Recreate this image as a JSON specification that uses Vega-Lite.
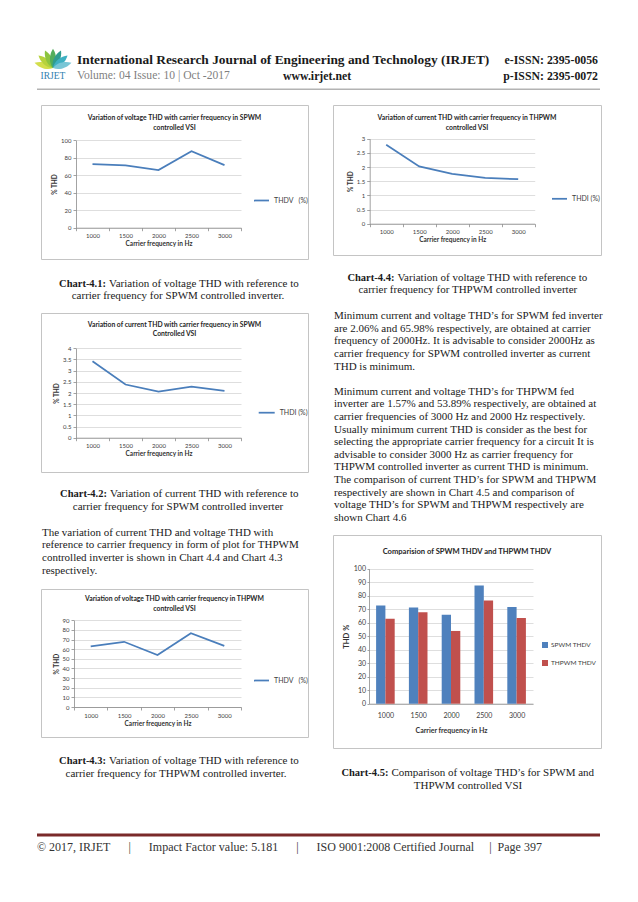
{
  "$schema": "https://vega.github.io/schema/vega-lite/v6.json",
  "padding": 0,
  "background": "white",
  "config": {
    "view": {"stroke": null},
    "font": "Lato",
    "title": {"font": "Lato", "fontSize": 6.8, "fontWeight": "bold", "color": "#262626", "anchor": "middle", "frame": "group"},
    "axis": {"labelFont": "Lato", "titleFont": "Lato", "labelFontSize": 6, "titleFontSize": 6.5, "titleFontWeight": "bold", "labelColor": "#404040", "titleColor": "#333333", "domainColor": "#8c8c8c", "tickColor": "#8c8c8c", "domainWidth": 0.8, "tickWidth": 0.8, "tickSize": 3, "labelPadding": 2, "gridColor": "#d6d6d6", "gridWidth": 0.8, "labelOverlap": false},
    "axisX": {"grid": false, "labelAngle": 0, "tickBand": "extent", "titlePadding": 2},
    "axisY": {"grid": true, "titlePadding": 3},
    "legend": {"labelFont": "Lato", "labelFontSize": 7, "labelColor": "#404040", "padding": 0, "symbolStrokeWidth": 1.75}
  },
  "datasets": {
    "thd": [
      {"freq": "1000", "series": "SPWM THDV", "scheme": "SPWM", "quantity": "THDV", "value": 72.7},
      {"freq": "1500", "series": "SPWM THDV", "scheme": "SPWM", "quantity": "THDV", "value": 71.2},
      {"freq": "2000", "series": "SPWM THDV", "scheme": "SPWM", "quantity": "THDV", "value": 65.98},
      {"freq": "2500", "series": "SPWM THDV", "scheme": "SPWM", "quantity": "THDV", "value": 87.6},
      {"freq": "3000", "series": "SPWM THDV", "scheme": "SPWM", "quantity": "THDV", "value": 71.6},
      {"freq": "1000", "series": "THPWM THDV", "scheme": "THPWM", "quantity": "THDV", "value": 63.0},
      {"freq": "1500", "series": "THPWM THDV", "scheme": "THPWM", "quantity": "THDV", "value": 67.7},
      {"freq": "2000", "series": "THPWM THDV", "scheme": "THPWM", "quantity": "THDV", "value": 53.89},
      {"freq": "2500", "series": "THPWM THDV", "scheme": "THPWM", "quantity": "THDV", "value": 76.5},
      {"freq": "3000", "series": "THPWM THDV", "scheme": "THPWM", "quantity": "THDV", "value": 63.5},
      {"freq": "1000", "series": "SPWM THDI", "scheme": "SPWM", "quantity": "THDI", "value": 3.42},
      {"freq": "1500", "series": "SPWM THDI", "scheme": "SPWM", "quantity": "THDI", "value": 2.38},
      {"freq": "2000", "series": "SPWM THDI", "scheme": "SPWM", "quantity": "THDI", "value": 2.06},
      {"freq": "2500", "series": "SPWM THDI", "scheme": "SPWM", "quantity": "THDI", "value": 2.28},
      {"freq": "3000", "series": "SPWM THDI", "scheme": "SPWM", "quantity": "THDI", "value": 2.1},
      {"freq": "1000", "series": "THPWM THDI", "scheme": "THPWM", "quantity": "THDI", "value": 2.79},
      {"freq": "1500", "series": "THPWM THDI", "scheme": "THPWM", "quantity": "THDI", "value": 2.02},
      {"freq": "2000", "series": "THPWM THDI", "scheme": "THPWM", "quantity": "THDI", "value": 1.76},
      {"freq": "2500", "series": "THPWM THDI", "scheme": "THPWM", "quantity": "THDI", "value": 1.62},
      {"freq": "3000", "series": "THPWM THDI", "scheme": "THPWM", "quantity": "THDI", "value": 1.57}
    ],
    "texts": [
      {"block": "cap41", "line": 1, "part": "bold", "text": "Chart-4.1:"},
      {"block": "cap41", "line": 1, "part": "rest", "text": "Variation of voltage THD with reference to"},
      {"block": "cap41", "line": 2, "part": "center", "text": "carrier frequency for SPWM controlled inverter."},
      {"block": "cap42", "line": 1, "part": "bold", "text": "Chart-4.2:"},
      {"block": "cap42", "line": 1, "part": "rest", "text": "Variation of current THD with reference to"},
      {"block": "cap42", "line": 2, "part": "center", "text": "carrier frequency for SPWM controlled inverter"},
      {"block": "cap43", "line": 1, "part": "bold", "text": "Chart-4.3:"},
      {"block": "cap43", "line": 1, "part": "rest", "text": "Variation of voltage THD with reference to"},
      {"block": "cap43", "line": 2, "part": "center", "text": "carrier frequency for THPWM controlled inverter."},
      {"block": "cap44", "line": 1, "part": "bold", "text": "Chart-4.4:"},
      {"block": "cap44", "line": 1, "part": "rest", "text": "Variation of voltage THD with reference to"},
      {"block": "cap44", "line": 2, "part": "center", "text": "carrier frequency for THPWM controlled inverter"},
      {"block": "cap45", "line": 1, "part": "bold", "text": "Chart-4.5:"},
      {"block": "cap45", "line": 1, "part": "rest", "text": "Comparison of voltage THD\u2019s for SPWM and"},
      {"block": "cap45", "line": 2, "part": "center", "text": "THPWM controlled VSI"},
      {"block": "paraL", "line": 1, "text": "The variation of current THD and voltage THD with"},
      {"block": "paraL", "line": 2, "text": "reference to carrier frequency in form of plot for THPWM"},
      {"block": "paraL", "line": 3, "text": "controlled inverter is shown in Chart 4.4 and Chart 4.3"},
      {"block": "paraL", "line": 4, "text": "respectively."},
      {"block": "paraR1", "line": 1, "text": "Minimum current and voltage THD\u2019s for SPWM fed inverter"},
      {"block": "paraR1", "line": 2, "text": "are 2.06% and 65.98% respectively, are obtained at carrier"},
      {"block": "paraR1", "line": 3, "text": "frequency of 2000Hz. It is advisable to consider 2000Hz as"},
      {"block": "paraR1", "line": 4, "text": "carrier frequency for SPWM controlled inverter as current"},
      {"block": "paraR1", "line": 5, "text": "THD is minimum."},
      {"block": "paraR2", "line": 1, "text": "Minimum current and voltage THD\u2019s for THPWM fed"},
      {"block": "paraR2", "line": 2, "text": "inverter are 1.57% and 53.89% respectively, are obtained at"},
      {"block": "paraR2", "line": 3, "text": "carrier frequencies of 3000 Hz and 2000 Hz respectively."},
      {"block": "paraR2", "line": 4, "text": "Usually minimum current THD is consider as the best for"},
      {"block": "paraR2", "line": 5, "text": "selecting the appropriate carrier frequency for a circuit It is"},
      {"block": "paraR2", "line": 6, "text": "advisable to consider 3000 Hz as carrier frequency for"},
      {"block": "paraR2", "line": 7, "text": "THPWM controlled inverter as current THD is minimum."},
      {"block": "paraR2", "line": 8, "text": "The comparison of current THD\u2019s for SPWM and THPWM"},
      {"block": "paraR2", "line": 9, "text": "respectively are shown in Chart 4.5 and comparison of"},
      {"block": "paraR2", "line": 10, "text": "voltage THD\u2019s for SPWM and THPWM respectively are"},
      {"block": "paraR2", "line": 11, "text": "shown Chart 4.6"}
    ],
    "header": [
      {"part": "leaf", "leaf": 1}, {"part": "leaf", "leaf": 2}, {"part": "leaf", "leaf": 3}, {"part": "leaf", "leaf": 4},
      {"part": "leaf", "leaf": 5}, {"part": "leaf", "leaf": 6}, {"part": "leaf", "leaf": 7},
      {"part": "logo", "text": "IRJET"},
      {"part": "title", "text": "International Research Journal of Engineering and Technology (IRJET)"},
      {"part": "volume", "text": "Volume: 04 Issue: 10 | Oct -2017"},
      {"part": "site", "text": "www.irjet.net"},
      {"part": "eissn", "text": "e-ISSN: 2395-0056"},
      {"part": "pissn", "text": "p-ISSN: 2395-0072"},
      {"part": "rule"}
    ],
    "footer": [
      {"part": "rule"},
      {"part": "text", "text": "\u00a9 2017, IRJET\u00a0\u00a0\u00a0\u00a0\u00a0\u00a0|\u00a0\u00a0\u00a0\u00a0\u00a0\u00a0Impact Factor value: 5.181\u00a0\u00a0\u00a0\u00a0\u00a0\u00a0|\u00a0\u00a0\u00a0\u00a0\u00a0\u00a0ISO 9001:2008 Certified Journal\u00a0\u00a0\u00a0\u00a0\u00a0|\u00a0\u00a0Page 397"}
    ]
  },
  "spacing": 0,
  "resolve": {"scale": {"color": "independent"}, "legend": {"color": "independent"}},
  "vconcat": [
    {
      "width": 638, "height": 104,
      "data": {"name": "header"},
      "layer": [
        {
          "transform": [{"filter": "datum.part === 'leaf'"}],
          "mark": {"type": "point", "filled": true, "opacity": 1, "size": 480, "shape": "M0,0C0.4,-0.45,0.34,-1.25,0,-1.75C-0.34,-1.25,-0.4,-0.45,0,0Z"},
          "encoding": {
            "x": {"datum": "a", "type": "nominal", "scale": {"type": "point", "padding": 0, "domain": ["a"], "range": [53, 53]}, "axis": null},
            "y": {"datum": "a", "type": "nominal", "scale": {"type": "point", "padding": 0, "domain": ["a"], "range": [68, 68]}, "axis": null},
            "angle": {"field": "leaf", "type": "quantitative", "scale": {"domain": [1, 7], "range": [-74, 74]}, "legend": null},
            "color": {"field": "leaf", "type": "ordinal", "scale": {"range": ["#d3de4c", "#b6d23d", "#8cc43f", "#52ad5c", "#2f9c8f", "#3eb0c2", "#79c6d6"]}, "legend": null}
          }
        },
        {
          "transform": [{"filter": "datum.part === 'logo'"}],
          "mark": {"type": "text", "align": "center", "baseline": "middle", "font": "Liberation Serif", "fontSize": 9.5, "color": "#2f7fb0"},
          "encoding": {
            "x": {"datum": "a", "type": "nominal", "scale": {"type": "point", "padding": 0, "domain": ["a"], "range": [53, 53]}, "axis": null},
            "y": {"datum": "a", "type": "nominal", "scale": {"type": "point", "padding": 0, "domain": ["a"], "range": [75.5, 75.5]}, "axis": null},
            "text": {"field": "text"}
          }
        },
        {
          "transform": [{"filter": "datum.part === 'title'"}],
          "mark": {"type": "text", "align": "left", "baseline": "middle", "font": "Liberation Serif", "fontSize": 13.4, "fontWeight": "bold", "color": "#1a1a1a"},
          "encoding": {
            "x": {"datum": "a", "type": "nominal", "scale": {"type": "point", "padding": 0, "domain": ["a"], "range": [77, 77]}, "axis": null},
            "y": {"datum": "a", "type": "nominal", "scale": {"type": "point", "padding": 0, "domain": ["a"], "range": [60, 60]}, "axis": null},
            "text": {"field": "text"}
          }
        },
        {
          "transform": [{"filter": "datum.part === 'volume'"}],
          "mark": {"type": "text", "align": "left", "baseline": "middle", "font": "Liberation Serif", "fontSize": 11.6, "color": "#7f7f7f"},
          "encoding": {
            "x": {"datum": "a", "type": "nominal", "scale": {"type": "point", "padding": 0, "domain": ["a"], "range": [77, 77]}, "axis": null},
            "y": {"datum": "a", "type": "nominal", "scale": {"type": "point", "padding": 0, "domain": ["a"], "range": [75.5, 75.5]}, "axis": null},
            "text": {"field": "text"}
          }
        },
        {
          "transform": [{"filter": "datum.part === 'site'"}],
          "mark": {"type": "text", "align": "left", "baseline": "middle", "font": "Liberation Serif", "fontSize": 11.8, "fontWeight": "bold", "color": "#1a1a1a"},
          "encoding": {
            "x": {"datum": "a", "type": "nominal", "scale": {"type": "point", "padding": 0, "domain": ["a"], "range": [283, 283]}, "axis": null},
            "y": {"datum": "a", "type": "nominal", "scale": {"type": "point", "padding": 0, "domain": ["a"], "range": [75.5, 75.5]}, "axis": null},
            "text": {"field": "text"}
          }
        },
        {
          "transform": [{"filter": "datum.part === 'eissn' || datum.part === 'pissn'"}],
          "mark": {"type": "text", "align": "right", "baseline": "middle", "font": "Liberation Serif", "fontSize": 11.8, "fontWeight": "bold", "color": "#1a1a1a"},
          "encoding": {
            "x": {"datum": "a", "type": "nominal", "scale": {"type": "point", "padding": 0, "domain": ["a"], "range": [598, 598]}, "axis": null},
            "y": {"field": "part", "type": "nominal", "scale": {"type": "point", "padding": 0, "domain": ["eissn", "pissn"], "range": [60, 75.5]}, "axis": null},
            "text": {"field": "text"}
          }
        },
        {
          "transform": [{"filter": "datum.part === 'rule'"}],
          "mark": {"type": "rule", "color": "#b3b3b3", "strokeWidth": 1.5},
          "encoding": {
            "x": {"datum": "start", "type": "nominal", "scale": {"type": "point", "padding": 0, "domain": ["start", "end"], "range": [37, 600]}, "axis": null},
            "x2": {"datum": "end"},
            "y": {"datum": "a", "type": "nominal", "scale": {"type": "point", "padding": 0, "domain": ["a"], "range": [89.3, 89.3]}, "axis": null}
          }
        }
      ],
      "resolve": {"scale": {"x": "independent", "y": "independent", "color": "independent", "angle": "independent"}}
    },
    {
      "spacing": 23,
      "resolve": {"scale": {"color": "independent"}, "legend": {"color": "independent"}},
      "hconcat": [
        {"width": 17, "height": 10, "data": {"values": [{"s": 0}]}, "mark": {"type": "point", "opacity": 0}},
        {
          "spacing": 0,
          "bounds": "flush",
          "resolve": {"scale": {"color": "independent"}, "legend": {"color": "independent"}},
          "vconcat": [
            {
              "width": 267, "height": 154,
              "view": {"stroke": "#c4c4c4"},
              "title": {"text": ["Variation of voltage THD with carrier frequency in SPWM", "controlled VSI"], "offset": -27, "lineHeight": 10},
              "data": {"name": "thd"},
              "transform": [{"filter": "datum.scheme === 'SPWM' && datum.quantity === 'THDV'"}],
              "mark": {"type": "line", "strokeWidth": 1.75},
              "encoding": {
                "x": {"field": "freq", "type": "ordinal", "scale": {"type": "band", "range": [35, 200], "paddingInner": 0, "paddingOuter": 0}, "axis": {"offset": -31.3, "title": "Carrier frequency in Hz"}},
                "y": {"field": "value", "type": "quantitative", "scale": {"domain": [0, 100], "range": [122.7, 35.3], "nice": false}, "axis": {"offset": -35, "values": [0, 20, 40, 60, 80, 100], "title": "% THD"}},
                "color": {"datum": "THDV\u00a0\u00a0\u00a0(%)", "type": "nominal", "scale": {"range": ["#4a7ebb"]}, "legend": {"title": null, "orient": "none", "legendX": 212, "legendY": 87, "symbolSize": 225}}
              }
            },
            {
              "width": 267, "height": 54,
              "data": {"name": "texts"},
              "transform": [{"filter": "datum.block === 'cap41'"}],
              "encoding": {"y": {"field": "line", "type": "ordinal", "scale": {"type": "point", "padding": 0, "domain": [1, 2], "range": [24.5, 37]}, "axis": null}},
              "layer": [
                {"transform": [{"filter": "datum.part === 'bold'"}], "mark": {"type": "text", "align": "right", "baseline": "middle", "font": "Liberation Serif", "fontSize": 10.5, "fontWeight": "bold", "color": "#1a1a1a"},
                 "encoding": {"x": {"datum": "split", "type": "nominal", "scale": {"type": "point", "padding": 0, "domain": ["split", "center"], "range": [65, 137]}, "axis": null}, "text": {"field": "text"}}},
                {"transform": [{"filter": "datum.part === 'rest'"}], "mark": {"type": "text", "align": "left", "baseline": "middle", "dx": 3, "font": "Liberation Serif", "fontSize": 11, "color": "#1a1a1a"},
                 "encoding": {"x": {"datum": "split", "type": "nominal", "axis": null}, "text": {"field": "text"}}},
                {"transform": [{"filter": "datum.part === 'center'"}], "mark": {"type": "text", "align": "center", "baseline": "middle", "font": "Liberation Serif", "fontSize": 11, "color": "#1a1a1a"},
                 "encoding": {"x": {"datum": "center", "type": "nominal", "axis": null}, "text": {"field": "text"}}}
              ]
            },
            {
              "width": 267, "height": 159,
              "view": {"stroke": "#c4c4c4"},
              "title": {"text": ["Variation of current THD with carrier frequency in SPWM", "Controlled VSI"], "offset": -25, "lineHeight": 9.5},
              "data": {"name": "thd"},
              "transform": [{"filter": "datum.scheme === 'SPWM' && datum.quantity === 'THDI'"}],
              "mark": {"type": "line", "strokeWidth": 1.75},
              "encoding": {
                "x": {"field": "freq", "type": "ordinal", "scale": {"type": "band", "range": [35, 200], "paddingInner": 0, "paddingOuter": 0}, "axis": {"offset": -34.3, "title": "Carrier frequency in Hz"}},
                "y": {"field": "value", "type": "quantitative", "scale": {"domain": [0, 4], "range": [124.7, 35.3], "nice": false}, "axis": {"offset": -35, "values": [0, 0.5, 1, 1.5, 2, 2.5, 3, 3.5, 4], "format": "~g", "title": "% THD"}},
                "color": {"datum": "THDI (%)", "type": "nominal", "scale": {"range": ["#4a7ebb"]}, "legend": {"title": null, "orient": "none", "legendX": 216.7, "legendY": 90.7, "symbolSize": 256}}
              }
            },
            {
              "width": 267, "height": 44,
              "data": {"name": "texts"},
              "transform": [{"filter": "datum.block === 'cap42'"}],
              "encoding": {"y": {"field": "line", "type": "ordinal", "scale": {"type": "point", "padding": 0, "domain": [1, 2], "range": [22.3, 34.5]}, "axis": null}},
              "layer": [
                {"transform": [{"filter": "datum.part === 'bold'"}], "mark": {"type": "text", "align": "right", "baseline": "middle", "font": "Liberation Serif", "fontSize": 10.5, "fontWeight": "bold", "color": "#1a1a1a"},
                 "encoding": {"x": {"datum": "split", "type": "nominal", "scale": {"type": "point", "padding": 0, "domain": ["split", "center"], "range": [66, 137]}, "axis": null}, "text": {"field": "text"}}},
                {"transform": [{"filter": "datum.part === 'rest'"}], "mark": {"type": "text", "align": "left", "baseline": "middle", "dx": 3, "font": "Liberation Serif", "fontSize": 11, "color": "#1a1a1a"},
                 "encoding": {"x": {"datum": "split", "type": "nominal", "axis": null}, "text": {"field": "text"}}},
                {"transform": [{"filter": "datum.part === 'center'"}], "mark": {"type": "text", "align": "center", "baseline": "middle", "font": "Liberation Serif", "fontSize": 11, "color": "#1a1a1a"},
                 "encoding": {"x": {"datum": "center", "type": "nominal", "axis": null}, "text": {"field": "text"}}}
              ]
            },
            {
              "width": 267, "height": 73,
              "data": {"name": "texts"},
              "transform": [{"filter": "datum.block === 'paraL'"}],
              "mark": {"type": "text", "align": "left", "baseline": "middle", "font": "Liberation Serif", "fontSize": 11, "color": "#1a1a1a"},
              "encoding": {
                "x": {"datum": "left", "type": "nominal", "scale": {"type": "point", "padding": 0, "domain": ["left"], "range": [1, 1]}, "axis": null},
                "y": {"field": "line", "type": "ordinal", "scale": {"type": "point", "padding": 0, "domain": [1, 2, 3, 4], "range": [16.7, 55]}, "axis": null},
                "text": {"field": "text"}
              }
            },
            {
              "width": 267, "height": 148,
              "view": {"stroke": "#c4c4c4"},
              "title": {"text": ["Variation of voltage THD with carrier frequency in THPWM", "controlled VSI"], "offset": -24, "lineHeight": 10},
              "data": {"name": "thd"},
              "transform": [{"filter": "datum.scheme === 'THPWM' && datum.quantity === 'THDV'"}],
              "mark": {"type": "line", "strokeWidth": 1.75},
              "encoding": {
                "x": {"field": "freq", "type": "ordinal", "scale": {"type": "band", "range": [33, 200], "paddingInner": 0, "paddingOuter": 0}, "axis": {"offset": -30, "title": "Carrier frequency in Hz"}},
                "y": {"field": "value", "type": "quantitative", "scale": {"domain": [0, 90], "range": [118, 31.3], "nice": false}, "axis": {"offset": -33, "values": [0, 10, 20, 30, 40, 50, 60, 70, 80, 90], "title": "% THD"}},
                "color": {"datum": "THDV\u00a0\u00a0\u00a0(%)", "type": "nominal", "scale": {"range": ["#4a7ebb"]}, "legend": {"title": null, "orient": "none", "legendX": 212, "legendY": 83, "symbolSize": 225}}
              }
            },
            {
              "width": 267, "height": 64,
              "data": {"name": "texts"},
              "transform": [{"filter": "datum.block === 'cap43'"}],
              "encoding": {"y": {"field": "line", "type": "ordinal", "scale": {"type": "point", "padding": 0, "domain": [1, 2], "range": [24, 36.5]}, "axis": null}},
              "layer": [
                {"transform": [{"filter": "datum.part === 'bold'"}], "mark": {"type": "text", "align": "right", "baseline": "middle", "font": "Liberation Serif", "fontSize": 10.5, "fontWeight": "bold", "color": "#1a1a1a"},
                 "encoding": {"x": {"datum": "split", "type": "nominal", "scale": {"type": "point", "padding": 0, "domain": ["split", "center"], "range": [65, 135]}, "axis": null}, "text": {"field": "text"}}},
                {"transform": [{"filter": "datum.part === 'rest'"}], "mark": {"type": "text", "align": "left", "baseline": "middle", "dx": 3, "font": "Liberation Serif", "fontSize": 11, "color": "#1a1a1a"},
                 "encoding": {"x": {"datum": "split", "type": "nominal", "axis": null}, "text": {"field": "text"}}},
                {"transform": [{"filter": "datum.part === 'center'"}], "mark": {"type": "text", "align": "center", "baseline": "middle", "font": "Liberation Serif", "fontSize": 11, "color": "#1a1a1a"},
                 "encoding": {"x": {"datum": "center", "type": "nominal", "axis": null}, "text": {"field": "text"}}}
              ]
            }
          ]
        },
        {
          "spacing": 0,
          "bounds": "flush",
          "resolve": {"scale": {"color": "independent"}, "legend": {"color": "independent"}},
          "vconcat": [
            {
              "width": 268, "height": 150,
              "view": {"stroke": "#c4c4c4"},
              "title": {"text": ["Variation of current THD with carrier frequency in THPWM", "controlled VSI"], "offset": -26.7, "lineHeight": 10},
              "data": {"name": "thd"},
              "transform": [{"filter": "datum.scheme === 'THPWM' && datum.quantity === 'THDI'"}],
              "mark": {"type": "line", "strokeWidth": 1.75},
              "encoding": {
                "x": {"field": "freq", "type": "ordinal", "scale": {"type": "band", "range": [36.7, 201.7], "paddingInner": 0, "paddingOuter": 0}, "axis": {"offset": -31.3, "title": "Carrier frequency in Hz"}},
                "y": {"field": "value", "type": "quantitative", "scale": {"domain": [0, 3], "range": [118.7, 33.7], "nice": false}, "axis": {"offset": -36.7, "values": [0, 0.5, 1, 1.5, 2, 2.5, 3], "format": "~g", "title": "% THD"}},
                "color": {"datum": "THDI (%)", "type": "nominal", "scale": {"range": ["#4a7ebb"]}, "legend": {"title": null, "orient": "none", "legendX": 218, "legendY": 85.3, "symbolSize": 225}}
              }
            },
            {
              "width": 268, "height": 46,
              "data": {"name": "texts"},
              "transform": [{"filter": "datum.block === 'cap44'"}],
              "encoding": {"y": {"field": "line", "type": "ordinal", "scale": {"type": "point", "padding": 0, "domain": [1, 2], "range": [22.7, 35.3]}, "axis": null}},
              "layer": [
                {"transform": [{"filter": "datum.part === 'bold'"}], "mark": {"type": "text", "align": "right", "baseline": "middle", "font": "Liberation Serif", "fontSize": 10.5, "fontWeight": "bold", "color": "#1a1a1a"},
                 "encoding": {"x": {"datum": "split", "type": "nominal", "scale": {"type": "point", "padding": 0, "domain": ["split", "center"], "range": [61.4, 134.8]}, "axis": null}, "text": {"field": "text"}}},
                {"transform": [{"filter": "datum.part === 'rest'"}], "mark": {"type": "text", "align": "left", "baseline": "middle", "dx": 3, "font": "Liberation Serif", "fontSize": 11, "color": "#1a1a1a"},
                 "encoding": {"x": {"datum": "split", "type": "nominal", "axis": null}, "text": {"field": "text"}}},
                {"transform": [{"filter": "datum.part === 'center'"}], "mark": {"type": "text", "align": "center", "baseline": "middle", "font": "Liberation Serif", "fontSize": 11, "color": "#1a1a1a"},
                 "encoding": {"x": {"datum": "center", "type": "nominal", "axis": null}, "text": {"field": "text"}}}
              ]
            },
            {
              "width": 268, "height": 78,
              "data": {"name": "texts"},
              "transform": [{"filter": "datum.block === 'paraR1'"}],
              "mark": {"type": "text", "align": "left", "baseline": "middle", "font": "Liberation Serif", "fontSize": 11, "color": "#1a1a1a"},
              "encoding": {
                "x": {"datum": "left", "type": "nominal", "scale": {"type": "point", "padding": 0, "domain": ["left"], "range": [1, 1]}, "axis": null},
                "y": {"field": "line", "type": "ordinal", "scale": {"type": "point", "padding": 0, "domain": [1, 2, 3, 4, 5], "range": [15, 65.7]}, "axis": null},
                "text": {"field": "text"}
              }
            },
            {
              "width": 268, "height": 156,
              "data": {"name": "texts"},
              "transform": [{"filter": "datum.block === 'paraR2'"}],
              "mark": {"type": "text", "align": "left", "baseline": "middle", "font": "Liberation Serif", "fontSize": 11, "color": "#1a1a1a"},
              "encoding": {
                "x": {"datum": "left", "type": "nominal", "scale": {"type": "point", "padding": 0, "domain": ["left"], "range": [1, 1]}, "axis": null},
                "y": {"field": "line", "type": "ordinal", "scale": {"type": "point", "padding": 0, "domain": [1, 2, 3, 4, 5, 6, 7, 8, 9, 10, 11], "range": [12.7, 138.7]}, "axis": null},
                "text": {"field": "text"}
              }
            },
            {
              "width": 268, "height": 213,
              "view": {"stroke": "#c4c4c4"},
              "title": {"text": "Comparision of SPWM THDV and THPWM THDV", "offset": -20.5, "fontSize": 7.6},
              "data": {"name": "thd"},
              "transform": [{"filter": "datum.quantity === 'THDV'"}],
              "mark": {"type": "bar"},
              "encoding": {
                "x": {"field": "freq", "type": "ordinal", "scale": {"type": "band", "range": [36, 200], "paddingInner": 0.433, "paddingOuter": 0.2165}, "axis": {"offset": -44.3, "title": "Carrier frequency in Hz", "ticks": false, "labelPadding": 8, "labelFontSize": 7, "titleFontSize": 7, "titlePadding": 8}},
                "xOffset": {"field": "series", "type": "nominal", "scale": {"paddingInner": 0}},
                "y": {"field": "value", "type": "quantitative", "scale": {"domain": [0, 100], "range": [168.7, 33.7], "nice": false}, "axis": {"offset": -36, "values": [0, 10, 20, 30, 40, 50, 60, 70, 80, 90, 100], "title": "THD %", "labelFontSize": 7, "titleFontSize": 7.5, "tickSize": 2, "labelPadding": 1.5}},
                "color": {"field": "series", "type": "nominal", "scale": {"domain": ["SPWM THDV", "THPWM THDV"], "range": ["#4f81bd", "#c0504d"]}, "legend": {"title": null, "orient": "none", "legendX": 208, "legendY": 106, "symbolType": "square", "symbolSize": 36, "labelFontSize": 6.5, "rowPadding": 10, "labelOffset": 2}}
              }
            },
            {
              "width": 268, "height": 53,
              "data": {"name": "texts"},
              "transform": [{"filter": "datum.block === 'cap45'"}],
              "encoding": {"y": {"field": "line", "type": "ordinal", "scale": {"type": "point", "padding": 0, "domain": [1, 2], "range": [25, 37.5]}, "axis": null}},
              "layer": [
                {"transform": [{"filter": "datum.part === 'bold'"}], "mark": {"type": "text", "align": "right", "baseline": "middle", "font": "Liberation Serif", "fontSize": 10.5, "fontWeight": "bold", "color": "#1a1a1a"},
                 "encoding": {"x": {"datum": "split", "type": "nominal", "scale": {"type": "point", "padding": 0, "domain": ["split", "center"], "range": [55.4, 135]}, "axis": null}, "text": {"field": "text"}}},
                {"transform": [{"filter": "datum.part === 'rest'"}], "mark": {"type": "text", "align": "left", "baseline": "middle", "dx": 3, "font": "Liberation Serif", "fontSize": 11, "color": "#1a1a1a"},
                 "encoding": {"x": {"datum": "split", "type": "nominal", "axis": null}, "text": {"field": "text"}}},
                {"transform": [{"filter": "datum.part === 'center'"}], "mark": {"type": "text", "align": "center", "baseline": "middle", "font": "Liberation Serif", "fontSize": 11, "color": "#1a1a1a"},
                 "encoding": {"x": {"datum": "center", "type": "nominal", "axis": null}, "text": {"field": "text"}}}
              ]
            }
          ]
        }
      ]
    },
    {
      "width": 638, "height": 102,
      "data": {"name": "footer"},
      "layer": [
        {
          "transform": [{"filter": "datum.part === 'rule'"}],
          "mark": {"type": "rule", "color": "#7a2a2a", "strokeWidth": 3},
          "encoding": {
            "x": {"datum": "start", "type": "nominal", "scale": {"type": "point", "padding": 0, "domain": ["start", "end"], "range": [37, 600]}, "axis": null},
            "x2": {"datum": "end"},
            "y": {"datum": "a", "type": "nominal", "scale": {"type": "point", "padding": 0, "domain": ["a"], "range": [34, 34]}, "axis": null}
          }
        },
        {
          "transform": [{"filter": "datum.part === 'text'"}],
          "mark": {"type": "text", "align": "left", "baseline": "middle", "font": "Liberation Serif", "fontSize": 12, "color": "#333333"},
          "encoding": {
            "x": {"datum": "a", "type": "nominal", "scale": {"type": "point", "padding": 0, "domain": ["a"], "range": [37, 37]}, "axis": null},
            "y": {"datum": "a", "type": "nominal", "scale": {"type": "point", "padding": 0, "domain": ["a"], "range": [45.5, 45.5]}, "axis": null},
            "text": {"field": "text"}
          }
        }
      ],
      "resolve": {"scale": {"x": "independent", "y": "independent"}}
    }
  ]
}
